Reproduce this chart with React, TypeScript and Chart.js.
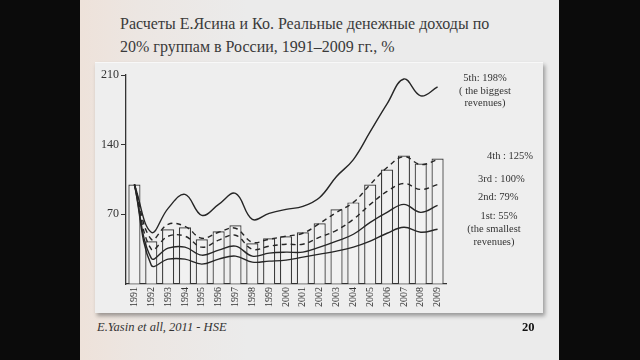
import React, { useEffect, useRef } from "react";
import Chart from "chart.js/auto";

const years = ["1991","1992","1993","1994","1995","1996","1997","1998","1999","2000","2001","2002","2003","2004","2005","2006","2007","2008","2009"];
const q4Bars = [100, 43, 55, 57, 45, 53, 59, 41, 46, 48, 52, 61, 75, 82, 100, 115, 129, 121, 126];
const q5Line = [100, 52, 76, 90, 69, 80, 91, 65, 71, 75, 78, 87, 108, 125, 153, 181, 206, 189, 198];
const q4Line = [100, 45, 60, 58, 46, 52, 56, 42, 45, 48, 51, 61, 72, 82, 100, 117, 128, 120, 125];
const q3Line = [100, 35, 48, 48, 37, 44, 49, 35, 38, 40, 40, 47, 54, 65, 80, 93, 101, 95, 100];
const q2Line = [100, 26, 36, 37, 29, 34, 38, 28, 31, 32, 32, 37, 43, 50, 62, 72, 80, 72, 79];
const q1Line = [100, 19, 25, 25, 20, 25, 28, 22, 23, 24, 27, 30, 33, 37, 43, 51, 57, 52, 55];
const yTicks = [70, 140, 210];

const titleLines = [
  "Расчеты Е.Ясина и Ко. Реальные денежные доходы по",
  "20% группам в России, 1991–2009 гг., %",
];

const SERIF = "'Liberation Serif', 'DejaVu Serif', serif";

export default function App() {
  const ref = useRef<HTMLCanvasElement | null>(null);

  useEffect(() => {
    const canvas = ref.current;
    if (!canvas) return;
    const lineDs = (data: number[], dashed: boolean) => ({
      type: "line" as const,
      data,
      borderColor: "#262626",
      borderWidth: 1.4,
      borderDash: dashed ? [5, 4] : [],
      pointRadius: 0,
      tension: 0.4,
      fill: false,
      order: 1,
    });
    const chart = new Chart(canvas, {
      type: "bar",
      data: {
        labels: years,
        datasets: [
          {
            type: "bar",
            data: q4Bars,
            backgroundColor: "rgba(244,244,244,0.6)",
            borderColor: "#3a3a3a",
            borderWidth: 1.2,
            barPercentage: 0.72,
            categoryPercentage: 1,
            order: 10,
          } as any,
          lineDs(q5Line, false),
          lineDs(q4Line, true),
          lineDs(q3Line, true),
          lineDs(q2Line, false),
          lineDs(q1Line, false),
        ],
      },
      options: {
        responsive: false,
        animation: false,
        layout: { padding: { top: 12, right: 97, left: 0, bottom: 0 } },
        plugins: { legend: { display: false }, tooltip: { enabled: false }, title: { display: false } },
        scales: {
          x: {
            offset: true,
            grid: { display: true, drawOnChartArea: false, drawTicks: false },
            border: { display: true, color: "#333", width: 1.3 },
            ticks: {
              autoSkip: false,
              minRotation: 90,
              maxRotation: 90,
              padding: 3,
              color: "#333",
              font: { family: SERIF, size: 10 },
            },
            afterFit: (s: any) => { s.height = 29; },
          },
          y: {
            min: 0,
            max: 210,
            afterBuildTicks: (s: any) => { s.ticks = yTicks.map((v) => ({ value: v })); },
            grid: { display: true, drawOnChartArea: false, drawTicks: true, tickLength: 5, color: "#333" },
            border: { display: true, color: "#333", width: 1.3 },
            ticks: {
              padding: 2,
              color: "#333",
              font: { family: SERIF, size: 12 },
            },
            afterFit: (s: any) => { s.width = 31; },
          },
        },
      },
    });
    return () => chart.destroy();
  }, []);

  const ann = (text: string, left: number, top: number, extra: React.CSSProperties = {}) => (
    <div style={{ position: "absolute", left, top, fontFamily: SERIF, fontSize: 10.5, color: "#333", whiteSpace: "nowrap", lineHeight: "13px", ...extra }}>{text}</div>
  );

  return (
    <div style={{ position: "fixed", left: 0, top: 0, width: 640, height: 360, background: "#0b0b0b", overflow: "hidden" }}>
      <div style={{ position: "absolute", left: 80, top: 0, width: 479, height: 360, background: "linear-gradient(to right, #eee2da 0%, #ece6e2 12%, #ebebeb 35%, #ebebeb 100%)" }} />
      <div style={{ position: "absolute", left: 120, top: 12, fontFamily: SERIF, fontSize: 16, lineHeight: "23px", color: "#3a3a3a", whiteSpace: "nowrap" }}>
        {titleLines.map((t, i) => (<div key={i}>{t}</div>))}
      </div>
      <div style={{ position: "absolute", left: 95, top: 62, width: 448, height: 250, background: "#eeeeee", boxShadow: "2px 3px 4px rgba(0,0,0,0.35)", borderTop: "1px solid #f8f8f8" }}>
        <canvas ref={ref} width={448} height={250} style={{ display: "block", width: 448, height: 250 }} />
      </div>
      <div style={{ position: "absolute", left: 440, top: 72, width: 90, textAlign: "center", fontFamily: SERIF, fontSize: 10.5, color: "#333", lineHeight: "12.5px" }}>
        <div>5th: 198%</div>
        <div>( the biggest</div>
        <div>revenues)</div>
      </div>
      {ann("4th : 125%", 487, 149)}
      {ann("3rd : 100%", 478, 172)}
      {ann("2nd: 79%", 478, 190)}
      <div style={{ position: "absolute", left: 449, top: 209, width: 90, textAlign: "center", fontFamily: SERIF, fontSize: 10.5, color: "#333", lineHeight: "13px" }}>
        <div style={{ paddingLeft: 10 }}>1st: 55%</div>
        <div>(the smallest</div>
        <div>revenues)</div>
      </div>
      <div style={{ position: "absolute", left: 97, top: 320, fontFamily: SERIF, fontStyle: "italic", fontSize: 12.5, color: "#333", whiteSpace: "nowrap" }}>E.Yasin et all, 2011 - HSE</div>
      <div style={{ position: "absolute", left: 522, top: 320, fontFamily: SERIF, fontWeight: "bold", fontSize: 12.5, color: "#111" }}>20</div>
    </div>
  );
}
